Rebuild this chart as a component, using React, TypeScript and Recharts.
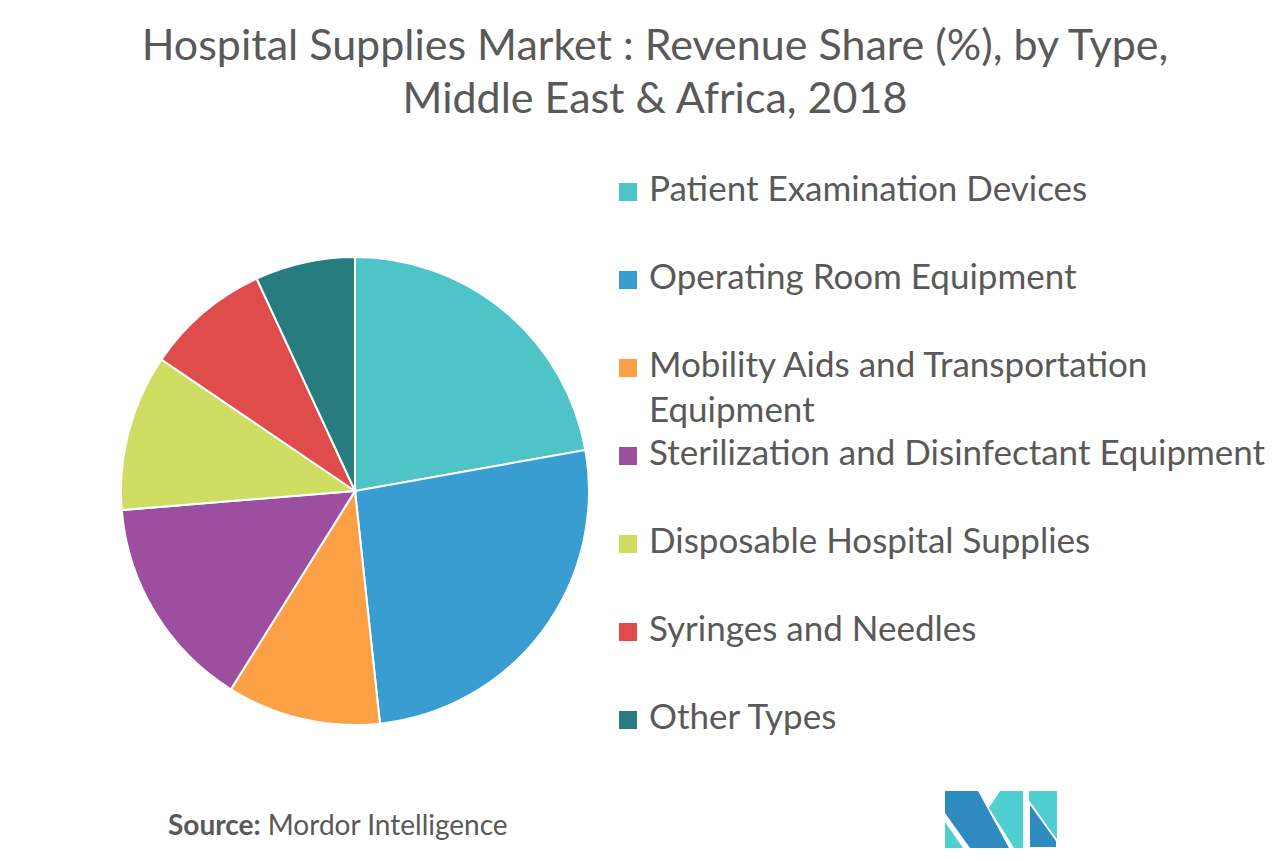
import React from 'react';
import { PieChart, Pie, Cell, Legend } from 'recharts';

const categories = [
  'Patient Examination Devices',
  'Operating Room Equipment',
  'Mobility Aids and Transportation Equipment',
  'Sterilization and Disinfectant Equipment',
  'Disposable Hospital Supplies',
  'Syringes and Needles',
  'Other Types',
];
const shares = [22.2, 26.1, 10.6, 14.8, 10.8, 8.6, 6.9];
const colors = ['#4fc4c8', '#3a9dd1', '#fba045', '#9b4f9e', '#cfdd62', '#e04b4c', '#277c7f'];

const data = categories.map((name, i) => ({ name, value: shares[i] }));

const FONT = 'Lato, "Open Sans", sans-serif';

function LegendList() {
  return (
    <div style={{ fontFamily: FONT, fontSize: 35, color: '#595959', width: 670 }}>
      {categories.map((name, i) => (
        <div key={name} style={{ display: 'flex', alignItems: 'flex-start', height: 88 }}>
          <div style={{ width: 18, height: 18, background: colors[i], marginTop: 18, marginRight: 12, flexShrink: 0 }} />
          <div style={{ lineHeight: '45px', width: i === 2 ? 530 : 650 }}>{name}</div>
        </div>
      ))}
    </div>
  );
}

export default function App() {
  return (
    <div style={{ position: 'relative', width: 1288, height: 861, background: '#fff', fontFamily: FONT }}>
      <style>{`body{margin:0}`}</style>
      <div style={{ position: 'absolute', top: 17, left: 0, width: 1310, textAlign: 'center', fontSize: 43, lineHeight: '53px', color: '#595959' }}>
        Hospital Supplies Market : Revenue Share (%), by Type,
        <br />
        Middle East &amp; Africa, 2018
      </div>
      <div style={{ position: 'absolute', top: 0, left: 0 }}>
        <PieChart width={1288} height={861} margin={{ top: 0, right: 0, bottom: 0, left: 0 }}>
          <Pie
            data={data}
            dataKey="value"
            nameKey="name"
            cx={355}
            cy={491}
            outerRadius={234}
            startAngle={90}
            endAngle={-270}
            stroke="#fff"
            strokeWidth={2}
            isAnimationActive={false}
          >
            {data.map((d, i) => (
              <Cell key={d.name} fill={colors[i]} />
            ))}
          </Pie>
          <Legend
            content={() => <LegendList />}
            wrapperStyle={{ position: 'absolute', left: 619, top: 165, width: 670 }}
          />
        </PieChart>
      </div>
      <div style={{ position: 'absolute', left: 168, top: 807, fontSize: 28, color: '#595959' }}>
        <b>Source:</b> Mordor Intelligence
      </div>
      <svg style={{ position: 'absolute', left: 945, top: 791 }} width={114} height={58}>
        <polygon points="0,0 33,0 64,57 25,57 0,22" fill="#2e8bc0" />
        <polygon points="0,31 0,57 18,57" fill="#4fcfd0" />
        <polygon points="55,0 78,0 78,57 69,57 44,17" fill="#4fcfd0" />
        <polygon points="84,0 112,0 112,57 84,57" fill="#4fcfd0" />
        <polygon points="84,11 112,50 112,57 84,57" fill="#2e8bc0" stroke="#fff" strokeWidth={2} />
      </svg>
    </div>
  );
}
